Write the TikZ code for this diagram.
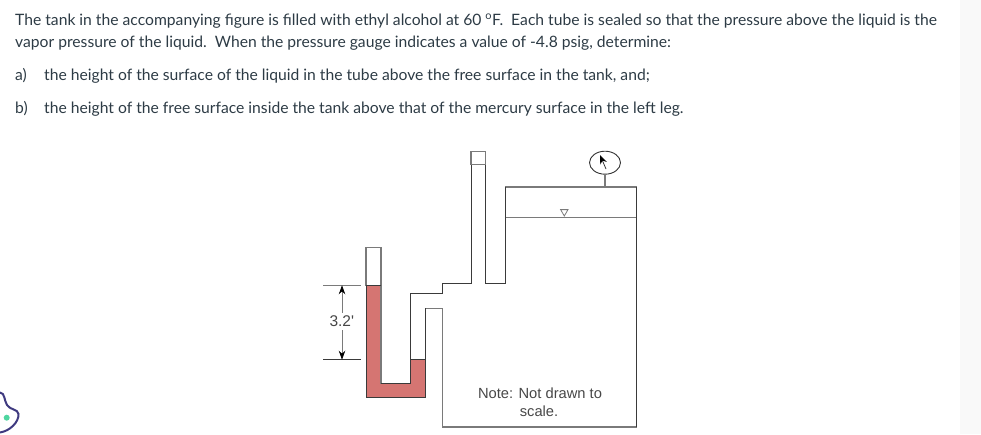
\documentclass[tikz,border=0pt]{standalone}
\usepackage{fontspec}
\setmainfont{Lato}
\newfontfamily\figfont{Liberation Sans}
\usepackage{xcolor}
\usetikzlibrary{arrows.meta, positioning, shapes.geometric}
\definecolor{textcol}{HTML}{2D3B45}
\definecolor{wallcol}{HTML}{7A7A7A}
\definecolor{stepcol}{HTML}{3A3A3A}
\definecolor{mercurycol}{HTML}{D57572}
\definecolor{stripcol}{HTML}{F9F9F9}
\definecolor{blobcol}{HTML}{3F3A80}
\definecolor{dotcol}{HTML}{4FD6A0}

\begin{document}
\begin{tikzpicture}[
    x=1pt,
    y=-1pt,
    wall/.style={draw=wallcol, line width=1.2pt, line join=miter, line cap=rect},
    darkwall/.style={draw=stepcol, line width=0.9pt, line join=miter, line cap=rect},
    thinwall/.style={draw=wallcol, line width=0.8pt},
    dimline/.style={draw=wallcol, line width=0.8pt},
    dimarrow/.style={draw=wallcol, line width=0.8pt, -{Stealth[length=9pt,width=6.5pt,color=black]}},
    para/.style={anchor=base west, inner sep=0pt, text=textcol, font=\fontsize{15.67}{18}\selectfont},
    figtext/.style={inner sep=0pt, text=black!72, font=\figfont\fontsize{14.7}{18}\selectfont}
]
\useasboundingbox (0,0) rectangle (981,434);
\fill[stripcol] (960,0) rectangle (981,434);

% Question text
\node[para] (line1) at (15,25) {The tank in the accompanying figure is filled with ethyl alcohol at 60 \textsuperscript{o}F.\ \ Each tube is sealed so that the pressure above the liquid is the};
\node[para] (line2) at (15,47) {vapor pressure of the liquid.\ \ When the pressure gauge indicates a value of -4.8 psig, determine:};
\node[para] (parta) at (15,80) {a)};
\node[para] (partatext) at (44,80) {the height of the surface of the liquid in the tube above the free surface in the tank, and;};
\node[para] (partb) at (15,113) {b)};
\node[para] (partbtext) at (44,113) {the height of the free surface inside the tank above that of the mercury surface in the left leg.};

% Mercury
\fill[mercurycol] (366,285.3) -- (381,285.3) -- (381,383) -- (410.7,383) -- (410.7,359.7)
    -- (425.7,359.7) -- (425.7,397.7) -- (366,397.7) -- cycle;

% Tube and tank, lighter walls
\draw[wall] (381,285.3) -- (381,247.3) -- (366,247.3) -- (366,285.3);
\draw[wall] (425.7,308.3) -- (442.3,308.3) -- (442.3,427) -- (636.3,427);
\draw[wall] (505.7,187) -- (636.3,187);
\draw[wall] (471,151.3) -- (485.7,151.3);
\draw[wall] (471,151.3) -- (471,164.3);
\draw[wall] (485.7,151.3) -- (485.7,164.3);
\draw[wall] (381,285.3) -- (381,383);

% Tube and tank, darker walls
\draw[darkwall] (366,285.3) -- (366,397.7) -- (425.7,397.7) -- (425.7,308.3);
\draw[darkwall] (636.3,427) -- (636.3,187);
\draw[darkwall] (505.7,187) -- (505.7,283.3) -- (485.7,283.3) -- (485.7,164.3);
\draw[darkwall] (471,164.3) -- (471,283.3) -- (442.3,283.3) -- (442.3,293.3)
    -- (410.7,293.3) -- (410.7,383) -- (381,383);

% Liquid levels
\draw[thinwall] (471,164.3) -- (485.7,164.3);
\draw[thinwall] (505.7,217.3) -- (636.3,217.3);
\draw[darkwall] (366,285.3) -- (381,285.3);
\draw[darkwall] (410.7,359.7) -- (425.7,359.7);
\draw[thinwall] (560.6,209.6) -- (568,209.6) -- (564.3,216) -- cycle;

% Gauge
\node[draw=black!80, ellipse, line width=0.9pt, minimum width=31pt, minimum height=23pt, inner sep=0pt] (gauge) at (605,162.7) {};
\coordinate (gaugebase) at (605,187);
\draw[wall] (gauge.south) -- (gaugebase);
\coordinate (needletail) at (606,169);
\coordinate (needletip) at (600,155);
\draw[line width=0.8pt, black!80, -{Stealth[length=9pt,width=7pt,color=black]}] (needletail) -- (needletip);

% Dimension
\coordinate (dimtopl) at (323,285.3);
\coordinate (dimtopr) at (361,285.3);
\coordinate (dimbotl) at (323,359.7);
\coordinate (dimbotr) at (361,359.7);
\coordinate (dimtop) at (342,285.3);
\coordinate (dimbot) at (342,359.7);
\draw[dimline] (dimtopl) -- (dimtopr);
\draw[darkwall, line cap=butt] (dimbotl) -- (dimbotr);
\node[figtext, font=\figfont\fontsize{15.5}{18}\selectfont] (dimlabel) at (341.8,321.5) {3.2'};
\draw[dimarrow] ([yshift=3pt]dimlabel.north -| dimtop) -- (dimtop);
\draw[dimarrow] ([yshift=-3pt]dimlabel.south -| dimbot) -- (dimbot);

% Note
\node[figtext] (note1) at (540,393) {Note: Not drawn to};
\node[figtext] (note2) at (539,411) {scale.};

% Corner mark
\draw[blobcol, line width=2pt, line cap=round] (0,392.5) .. controls (5,393) and (4,400) .. (7,405)
    .. controls (10,410) and (18,409) .. (18.5,414) .. controls (19,422) and (10,431) .. (0,432.5);
\fill[dotcol] (6.7,417.7) circle (3);
\end{tikzpicture}
\end{document}
